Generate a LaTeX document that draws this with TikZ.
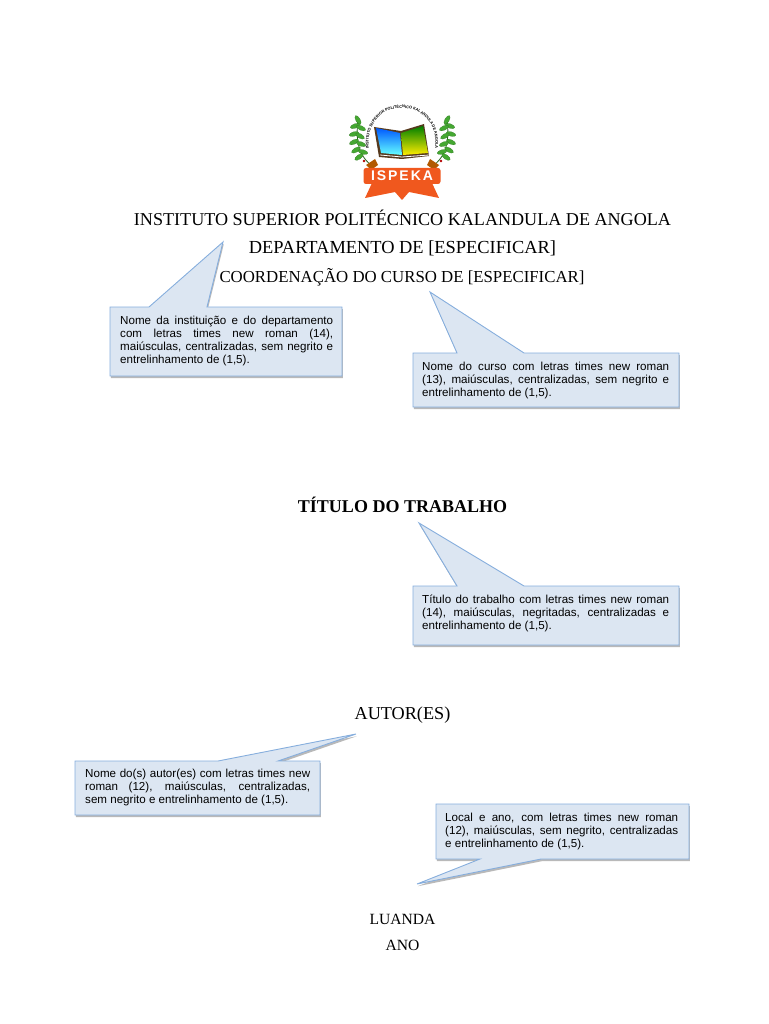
\documentclass[tikz,border=0pt]{standalone}
\usepackage{fontspec}
\setmainfont{Liberation Serif}
\setsansfont{Liberation Sans}
\usetikzlibrary{calc,shadows,decorations.text}

\definecolor{notafill}{HTML}{DCE6F2}
\definecolor{notaline}{HTML}{86AEDD}
\definecolor{laranja}{HTML}{F0581E}
\definecolor{folha}{HTML}{45A832}

\tikzset{
  titulo/.style={font=\fontsize{18.1}{20}\selectfont, anchor=center, inner sep=0pt},
  nota/.style={draw=notaline, fill=notafill, line width=0.9pt, line join=miter,
    drop shadow={shadow xshift=0.8pt, shadow yshift=-2.2pt, fill=black!50, opacity=.55}},
  notatexto/.style={font=\sffamily\fontsize{11.6}{12.8}\selectfont, anchor=north west,
    inner sep=0pt, align=justify},
  folhinha/.style={fill=folha, draw=folha!70!black, line width=0.2pt},
}

\begin{document}
\begin{tikzpicture}[x=1pt, y=-1pt]
  \useasboundingbox (0,0) rectangle (768,1024);

  % Logo: laurel branches
  \foreach \s/\cx in {1/0, -1/805} {
    \begin{scope}[shift={(\cx,0)}, xscale=\s]
      \draw[folha!60!black, line width=0.8pt] (374,167) .. controls (356,156) and (356,135) .. (358,118);
      \foreach \px/\py/\ang in {358/120/-60, 355/126/20, 361/128/-25, 354/134/15, 360/136/-30,
                                354/142/25, 361/144/-20, 356/150/30, 363/152/-15, 359/157/35} {
        \fill[folhinha, rotate around={\ang:(\px,\py)}] (\px,\py) ellipse (5 and 2.2);
      }
      \fill[red!70!black] (364,161) circle (1.3);
      \fill[orange!70!black] (366,165) -- (375,159) -- (378,165) -- (371,170) -- cycle;
    \end{scope}
  }

  % Logo: book
  \fill[black!55!brown] (374,127) -- (401,131) -- (424,124) -- (429,156) -- (402,159) -- (379,157) -- cycle;
  \shade[top color=blue!65!cyan, bottom color=cyan!60!white] (376,128) -- (400,133) -- (402,155) -- (381,153) -- cycle;
  \shade[top color=green!50!black, bottom color=yellow!85!orange] (401,133) -- (423,126) -- (428,153) -- (403,155) -- cycle;
  \draw[white, line width=0.8pt] (380,155) -- (402,157) -- (429,155);

  % Logo: round text
  \path[decorate, decoration={text along path, text align=center,
    text={|\sffamily\bfseries\fontsize{3.9}{5}\selectfont|INSTITUTO SUPERIOR POLITÉCNICO KALANDULA DE ANGOLA}}]
    (369,150) .. controls (362,94) and (442,94) .. (435,150);

  % Logo: ribbon and name
  \fill[laranja] (372,183) -- (365,198) -- (395,192) -- (402,200) -- (409,192) -- (439,198) -- (432,183) -- cycle;
  \node[fill=laranja, rounded corners=2.5pt, minimum width=77pt, minimum height=16pt, inner sep=0pt,
    text=white, font=\sffamily\bfseries\fontsize{14}{15}\selectfont\addfontfeature{LetterSpace=14}] (logo) at (402,176) {ISPEKA};

  % Texts of the page
  \node[titulo] (inst) at (402.5,217.5) {INSTITUTO SUPERIOR POLITÉCNICO KALANDULA DE ANGOLA};
  \node[titulo, font=\fontsize{18.4}{20}\selectfont] (dept) at (402.5,248) {DEPARTAMENTO DE [ESPECIFICAR]};
  \node[titulo, font=\fontsize{16.8}{19}\selectfont] (coord) at (402,277) {COORDENAÇÃO DO CURSO DE [ESPECIFICAR]};
  \node[titulo, font=\bfseries\fontsize{18}{20}\selectfont] (tit) at (402.5,505) {TÍTULO DO TRABALHO};
  \node[titulo, font=\fontsize{18.2}{19}\selectfont] (aut) at (402.5,715) {AUTOR(ES)};
  \node[titulo, font=\fontsize{15.6}{18}\selectfont] (lua) at (402.5,919.5) {LUANDA};
  \node[titulo, font=\fontsize{15.6}{18}\selectfont] (ano) at (402.5,945.5) {ANO};

  % Callouts
  \draw[nota] (110,307) -- (149,307) -- (223,242) -- (207,307) -- (342,307)
    -- (342,376) -- (110,376) -- cycle;
  \node[notatexto, text width=213pt] (notaA) at (120,316)
    {Nome da instituição e do departamento\linebreak com letras times new roman (14),\linebreak
     maiúsculas, centralizadas, sem negrito e\linebreak entrelinhamento de (1,5).};

  \draw[nota] (413,353) -- (457,353) -- (430,292) -- (524,353) -- (679,353)
    -- (679,407) -- (413,407) -- cycle;
  \node[notatexto, text width=247pt] (notaB) at (422,362)
    {Nome do curso com letras times new roman\linebreak (13), maiúsculas, centralizadas, sem negrito e\linebreak
     entrelinhamento de (1,5).};

  \draw[nota] (413,586) -- (457,586) -- (419,523) -- (524,586) -- (679,586)
    -- (679,645) -- (413,645) -- cycle;
  \node[notatexto, text width=247pt] (notaC) at (422,595)
    {Título do trabalho com letras times new roman\linebreak (14), maiúsculas, negritadas, centralizadas e\linebreak
     entrelinhamento de (1,5).};

  \draw[nota] (75,761) -- (218,761) -- (356,734) -- (278,761) -- (320,761)
    -- (320,815) -- (75,815) -- cycle;
  \node[notatexto, text width=225pt] (notaD) at (85,769)
    {Nome do(s) autor(es) com letras times new\linebreak roman (12), maiúsculas, centralizadas,\linebreak
     sem negrito e entrelinhamento de (1,5).};

  \draw[nota] (436,804) -- (689,804) -- (689,859) -- (541,859) -- (417,884)
    -- (480,859) -- (436,859) -- cycle;
  \node[notatexto, text width=233pt] (notaE) at (445,813)
    {Local e ano, com letras times new roman\linebreak (12), maiúsculas, sem negrito, centralizadas\linebreak
     e entrelinhamento de (1,5).};
\end{tikzpicture}
\end{document}
